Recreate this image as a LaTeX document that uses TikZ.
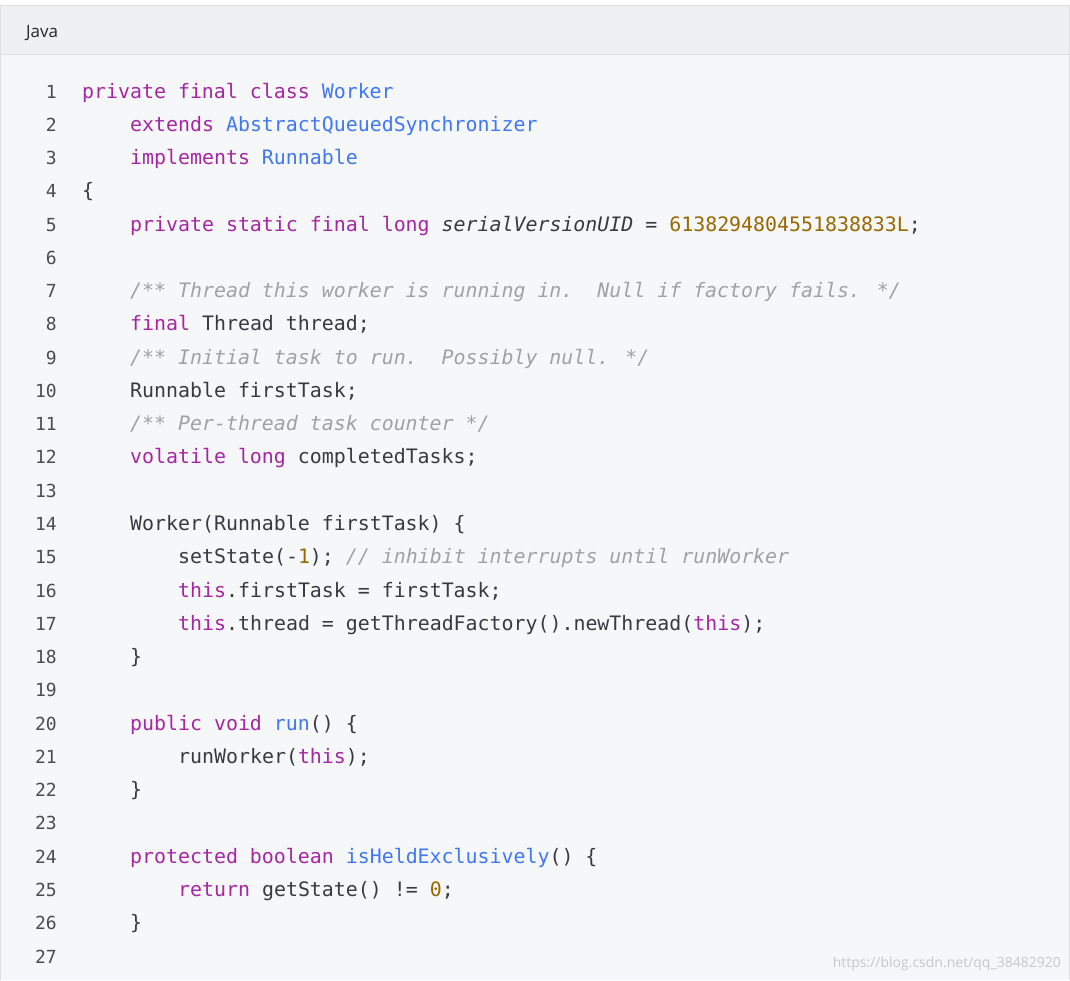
\documentclass[tikz,border=0pt]{standalone}
\usepackage{fontspec}
\newfontfamily\cf{DejaVu Sans Mono}
\setmainfont{Open Sans}
\definecolor{kw}{HTML}{A626A4}
\definecolor{ty}{HTML}{4078F2}
\definecolor{cmc}{HTML}{A0A1A7}
\definecolor{nm}{HTML}{986801}
\definecolor{txt}{HTML}{383A42}
\definecolor{hdr}{HTML}{EFF0F2}
\definecolor{bdy}{HTML}{F6F7F8}
\definecolor{brd}{HTML}{DFE0E2}
\newcommand{\kw}[1]{\textcolor{kw}{#1}}
\newcommand{\ty}[1]{\textcolor{ty}{#1}}
\newcommand{\cm}[1]{\textcolor{cmc}{\itshape #1}}
\newcommand{\nm}[1]{\textcolor{nm}{#1}}
\newcommand{\codeline}[3]{\node[code] (l#1) at ({82+#2*12},{91+7+(#1-1)*33.27}) {#3};}
\begin{document}
\begin{tikzpicture}[x=1pt,y=-1pt,
  code/.style={anchor=base west,inner sep=0pt,font=\cf\fontsize{19.9}{20}\selectfont,text=txt},
  lno/.style={anchor=base east,inner sep=0pt,font=\cf\fontsize{18}{20}\selectfont,text=black!70}]
\useasboundingbox (0,0) rectangle (1070,980);
\fill[white] (0,0) rectangle (1070,980);
\fill[bdy] (0,5) rectangle (1070,980);
\fill[hdr] (0,5) rectangle (1070,54);
\draw[brd] (0,54) -- (1070,54);
\draw[brd] (0.5,980) -- (0.5,5.5) -- (1069.5,5.5) -- (1069.5,980);
\node[anchor=base west,inner sep=0pt,font=\fontsize{17}{20}\selectfont,text=black!85] (hd) at (26,37) {Java};
\foreach \i in {1,...,27} {\node[lno] (n\i) at (57,{91+7+(\i-1)*33.27}) {\i};}
\codeline{1}{0}{\kw{private final class} \ty{Worker}}
\codeline{2}{4}{\kw{extends} \ty{AbstractQueuedSynchronizer}}
\codeline{3}{4}{\kw{implements} \ty{Runnable}}
\codeline{4}{0}{\{}
\codeline{5}{4}{\kw{private static final long} \textit{serialVersionUID} = \nm{6138294804551838833L};}
\codeline{7}{4}{\cm{/** Thread this worker is running in.\ \ Null if factory fails. */}}
\codeline{8}{4}{\kw{final} Thread thread;}
\codeline{9}{4}{\cm{/** Initial task to run.\ \ Possibly null. */}}
\codeline{10}{4}{Runnable firstTask;}
\codeline{11}{4}{\cm{/** Per-thread task counter */}}
\codeline{12}{4}{\kw{volatile long} completedTasks;}
\codeline{14}{4}{Worker(Runnable firstTask) \{}
\codeline{15}{8}{setState(-\nm{1}); \cm{// inhibit interrupts until runWorker}}
\codeline{16}{8}{\kw{this}.firstTask = firstTask;}
\codeline{17}{8}{\kw{this}.thread = getThreadFactory().newThread(\kw{this});}
\codeline{18}{4}{\}}
\codeline{20}{4}{\kw{public void} \ty{run}() \{}
\codeline{21}{8}{runWorker(\kw{this});}
\codeline{22}{4}{\}}
\codeline{24}{4}{\kw{protected boolean} \ty{isHeldExclusively}() \{}
\codeline{25}{8}{\kw{return} getState() != \nm{0};}
\codeline{26}{4}{\}}
\node[anchor=base east,inner sep=0pt,font=\fontsize{14}{16}\selectfont,text=black!22] (wm) at (1061,967) {https://blog.csdn.net/qq\_38482920};
\end{tikzpicture}
\end{document}
